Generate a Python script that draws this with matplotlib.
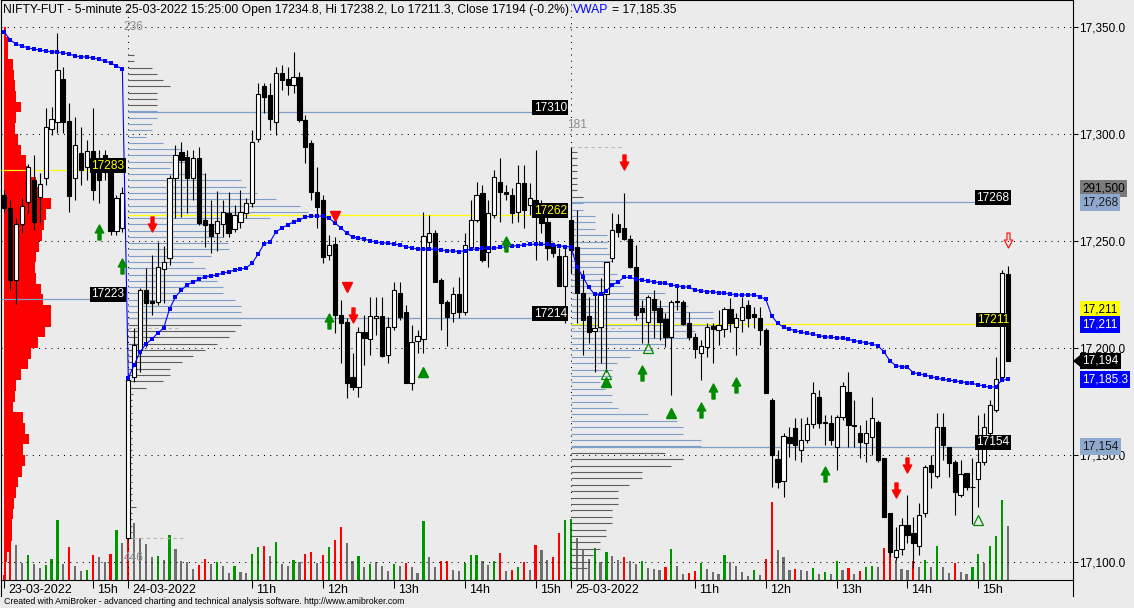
import numpy as np
import matplotlib
matplotlib.use("Agg")
import matplotlib.pyplot as plt
from matplotlib.path import Path
from matplotlib.patches import Polygon
from matplotlib.lines import Line2D
import matplotlib.transforms as mtransforms

plt.rcParams['font.family'] = ['Liberation Sans', 'DejaVu Sans']

# ---------------------------------------------------------------- data
symbol = "NIFTY-FUT"
interval = "5-minute"
last_stamp = "25-03-2022 15:25:00"

opens = [
    17271.5, 17265.4, 17231.8, 17257.9, 17268.2, 17278.5, 17270.5, 17279.4, 17302.3, 17305.5,
    17325.6, 17306.0, 17279.4, 17291.0, 17284.5, 17292.0, 17285.5, 17290.1, 17286.4, 17254.6,
    17256.1,
    17111.3, 17186.5, 17199.1, 17227.1, 17222.0, 17221.5, 17236.9, 17242.0, 17279.4, 17291.5,
    17289.2, 17279.4, 17288.7, 17259.8, 17257.9, 17253.7, 17257.9, 17263.0, 17255.6, 17258.9,
    17263.0, 17267.7, 17297.6, 17322.4, 17318.2, 17305.5, 17328.4, 17325.6, 17322.8, 17326.5,
    17306.5, 17295.7, 17272.9, 17269.1, 17243.4, 17248.6, 17215.5, 17212.2, 17186.5, 17181.8,
    17207.5, 17204.2, 17214.1, 17215.0, 17196.8, 17209.8, 17225.7, 17216.9, 17183.7, 17203.3,
    17204.2, 17249.5, 17253.7, 17231.8, 17221.5, 17216.4, 17225.3, 17216.9, 17247.2, 17259.8,
    17272.4, 17244.8, 17262.1, 17277.5, 17272.9, 17271.5, 17263.5, 17277.1, 17266.8, 17269.1,
    17263.0, 17258.9, 17248.1, 17243.0, 17229.0,
    17259.8, 17247.2, 17225.7, 17215.0, 17208.0, 17209.8, 17225.3, 17242.0, 17257.9, 17256.1,
    17250.9, 17237.8, 17218.7, 17212.2, 17222.9, 17218.7, 17213.6, 17205.2, 17222.0, 17221.5,
    17211.7, 17205.2, 17197.7, 17200.5, 17210.3, 17208.4, 17208.9, 17218.3, 17209.8, 17213.1,
    17220.1, 17215.9, 17214.1, 17208.4, 17175.8, 17148.2, 17138.0, 17158.5, 17162.7, 17152.4,
    17157.1, 17164.6, 17177.1, 17165.0, 17165.0, 17153.8, 17167.9, 17179.5, 17164.1, 17160.3,
    17155.7, 17158.5, 17165.5, 17148.7, 17123.0, 17102.5, 17106.2, 17117.4, 17113.7, 17107.6,
    17123.0, 17145.4, 17140.3, 17163.2, 17153.8, 17146.8, 17131.4, 17141.7, 17135.2, 17138.9,
    17146.8, 17160.3, 17171.1, 17186.5, 17234.8]

highs = [
    17273.8, 17269.1, 17260.7, 17270.1, 17285.9, 17290.1, 17281.7, 17312.1, 17312.5, 17347.1,
    17331.2, 17314.4, 17307.9, 17303.2, 17297.1, 17312.1, 17292.4, 17292.4, 17288.7, 17271.5,
    17275.2,
    17186.0, 17209.4, 17228.0, 17237.4, 17243.4, 17249.5, 17247.6, 17280.8, 17294.8, 17296.2,
    17292.4, 17292.4, 17293.8, 17281.7, 17269.1, 17273.3, 17269.1, 17272.9, 17266.8, 17273.8,
    17270.1, 17301.8, 17323.8, 17323.8, 17323.8, 17331.2, 17332.2, 17331.2, 17338.2, 17328.9,
    17308.8, 17297.1, 17284.5, 17271.5, 17252.8, 17251.8, 17222.5, 17214.1, 17197.7, 17209.8,
    17215.5, 17223.9, 17223.9, 17223.9, 17214.5, 17230.8, 17230.8, 17220.1, 17210.8, 17208.4,
    17263.5, 17262.1, 17255.1, 17232.7, 17222.5, 17228.5, 17233.2, 17253.7, 17269.1, 17277.5,
    17276.1, 17269.1, 17283.1, 17288.7, 17276.1, 17274.7, 17285.5, 17285.5, 17277.1, 17292.4,
    17269.1, 17264.4, 17249.5, 17246.7, 17247.2,
    17293.8, 17264.4, 17236.4, 17223.9, 17225.7, 17232.7, 17240.2, 17263.0, 17262.6, 17272.4,
    17252.8, 17248.1, 17222.5, 17224.8, 17227.1, 17222.5, 17216.4, 17222.5, 17229.0, 17222.5,
    17216.9, 17207.0, 17203.8, 17211.7, 17211.7, 17217.8, 17219.2, 17223.4, 17216.4, 17223.9,
    17222.5, 17219.2, 17219.2, 17209.4, 17176.7, 17152.4, 17160.3, 17163.2, 17167.4, 17167.4,
    17167.9, 17184.2, 17180.4, 17168.8, 17168.8, 17168.8, 17184.2, 17188.8, 17175.8, 17164.1,
    17166.4, 17177.1, 17166.4, 17148.7, 17123.0, 17116.5, 17120.7, 17131.4, 17121.1, 17127.7,
    17145.4, 17150.1, 17169.7, 17169.7, 17153.8, 17147.7, 17147.7, 17141.7, 17148.7, 17168.8,
    17169.7, 17175.8, 17195.8, 17236.4, 17238.2]

lows = [
    17263.5, 17227.1, 17220.6, 17253.7, 17263.0, 17255.1, 17258.4, 17276.1, 17299.5, 17300.4,
    17300.4, 17263.5, 17269.1, 17276.1, 17278.5, 17269.1, 17267.7, 17278.5, 17252.8, 17252.8,
    17254.2,
    17110.4, 17184.2, 17188.8, 17200.5, 17215.5, 17220.1, 17221.1, 17238.8, 17260.7, 17261.2,
    17263.0, 17269.1, 17257.5, 17247.2, 17244.4, 17245.3, 17251.8, 17251.8, 17254.2, 17256.1,
    17260.7, 17265.8, 17296.2, 17309.7, 17301.8, 17299.5, 17320.5, 17318.2, 17319.1, 17305.5,
    17286.4, 17269.1, 17256.1, 17239.7, 17241.1, 17207.0, 17193.0, 17176.7, 17180.4, 17177.1,
    17192.1, 17196.8, 17206.1, 17195.8, 17193.0, 17208.4, 17213.1, 17183.7, 17180.4, 17197.7,
    17197.7, 17246.7, 17230.8, 17208.4, 17200.9, 17212.2, 17214.1, 17215.5, 17245.8, 17258.9,
    17240.2, 17237.8, 17260.7, 17258.9, 17269.1, 17258.4, 17258.9, 17256.1, 17262.1, 17241.1,
    17253.7, 17241.1, 17242.5, 17229.0, 17211.7,
    17235.0, 17211.7, 17196.8, 17202.3, 17188.8, 17193.0, 17188.8, 17240.2, 17251.8, 17250.4,
    17237.4, 17213.1, 17202.3, 17202.3, 17204.7, 17203.8, 17200.5, 17178.1, 17217.8, 17210.8,
    17203.8, 17195.4, 17185.1, 17195.8, 17193.0, 17201.4, 17205.2, 17207.5, 17196.8, 17207.5,
    17209.8, 17209.4, 17201.4, 17179.0, 17135.2, 17134.7, 17130.5, 17149.2, 17147.7, 17146.8,
    17155.7, 17162.7, 17162.7, 17154.8, 17154.8, 17143.1, 17166.4, 17153.8, 17153.8, 17148.7,
    17146.8, 17150.1, 17146.8, 17121.1, 17102.5, 17101.1, 17103.4, 17109.0, 17097.3, 17103.4,
    17121.1, 17134.7, 17139.3, 17147.7, 17139.8, 17122.1, 17130.5, 17133.8, 17117.9, 17125.8,
    17145.4, 17159.0, 17170.2, 17185.1, 17211.3]

closes = [
    17265.4, 17231.8, 17257.9, 17266.3, 17284.5, 17258.9, 17276.6, 17303.2, 17307.0, 17329.8,
    17305.5, 17271.0, 17294.8, 17283.1, 17292.0, 17273.8, 17278.5, 17282.2, 17254.6, 17270.1,
    17272.4,
    17185.1, 17201.4, 17227.1, 17221.1, 17221.1, 17237.8, 17240.2, 17279.4, 17290.1, 17287.8,
    17279.4, 17288.7, 17258.4, 17257.5, 17252.3, 17259.3, 17263.5, 17253.7, 17262.1, 17263.5,
    17267.7, 17296.2, 17318.6, 17317.2, 17307.0, 17328.4, 17325.1, 17322.8, 17326.5, 17306.5,
    17293.8, 17272.9, 17265.8, 17242.5, 17248.1, 17215.5, 17211.7, 17183.7, 17181.8, 17207.5,
    17204.7, 17215.0, 17215.0, 17196.3, 17209.8, 17227.1, 17214.5, 17183.7, 17202.8, 17205.6,
    17252.3, 17253.7, 17230.8, 17221.1, 17214.5, 17225.3, 17216.9, 17248.1, 17259.8, 17271.5,
    17241.1, 17263.0, 17279.9, 17272.9, 17271.9, 17263.0, 17277.1, 17264.4, 17270.1, 17264.4,
    17258.4, 17246.7, 17244.4, 17229.0, 17243.0,
    17245.8, 17225.7, 17213.1, 17207.5, 17209.4, 17225.3, 17240.2, 17255.1, 17254.2, 17250.9,
    17237.8, 17215.5, 17216.9, 17223.9, 17217.8, 17212.2, 17205.2, 17221.5, 17221.5, 17211.3,
    17205.2, 17199.6, 17200.9, 17209.8, 17208.9, 17210.8, 17218.3, 17211.7, 17214.1, 17219.2,
    17214.1, 17214.5, 17208.4, 17179.0, 17150.1, 17137.5, 17159.0, 17155.7, 17154.8, 17157.1,
    17164.6, 17179.0, 17165.0, 17165.5, 17157.1, 17167.9, 17182.3, 17164.1, 17163.6, 17156.2,
    17160.3, 17167.4, 17147.7, 17121.1, 17104.8, 17105.8, 17117.4, 17112.7, 17109.0, 17122.1,
    17144.5, 17142.1, 17163.2, 17154.8, 17146.3, 17132.8, 17141.2, 17135.2, 17135.0, 17146.8,
    17163.2, 17173.4, 17185.6, 17235.0, 17194.0]

# volume in thousands; signal: u = up-volume (green), d = down-volume (red), n = neutral
volume_k = [
    27.0, 216.0, 189.0, 91.8, 135.0, 86.4, 64.8, 81.0, 113.4, 324.0,
    86.4, 178.2, 75.6, 48.6, 54.0, 135.0, 124.2, 97.2, 140.4, 270.0,
    199.8,
    226.8, 307.8, 226.8, 194.4, 124.2, 129.6, 108.0, 243.0, 167.4, 102.6,
    97.2, 59.4, 81.0, 113.4, 86.4, 97.2, 75.6, 37.8, 75.6, 43.2,
    37.8, 140.4, 178.2, 183.6, 129.6, 205.2, 86.4, 75.6, 108.0, 97.2,
    140.4, 151.2, 91.8, 135.0, 178.2, 216.0, 286.2, 199.8, 102.6, 129.6,
    70.2, 86.4, 97.2, 75.6, 48.6, 86.4, 75.6, 91.8, 70.2, 37.8,
    318.6, 124.2, 70.2, 102.6, 102.6, 54.0, 48.6, 91.8, 135.0, 135.0,
    102.6, 81.0, 102.6, 145.8, 48.6, 54.0, 70.2, 97.2, 54.0, 189.0,
    162.0, 108.0, 124.2, 253.8, 324.0,
    329.4, 226.8, 162.0, 113.4, 172.8, 97.2, 151.2, 129.6, 108.0, 124.2,
    102.6, 86.4, 102.6, 64.8, 59.4, 54.0, 70.2, 167.4, 75.6, 32.4,
    37.8, 48.6, 91.8, 59.4, 43.2, 32.4, 135.0, 97.2, 75.6, 43.2,
    21.6, 54.0, 27.0, 113.4, 421.2, 162.0, 124.2, 54.0, 59.4, 54.0,
    48.6, 64.8, 32.4, 43.2, 32.4, 102.6, 54.0, 64.8, 32.4, 48.6,
    70.2, 75.6, 70.2, 172.8, 145.8, 108.0, 59.4, 54.0, 102.6, 70.2,
    108.0, 70.2, 183.6, 70.2, 37.8, 91.8, 43.2, 32.4, 70.2, 140.4,
    91.8, 183.6, 237.6, 432.0, 291.5]

volume_signal = ("ddnnunnuuu" "ndnnudnndu" "n"
                 "dnnnnununn" "nnddnunnun" "nuudnunnun" "ddndudd" "nnu"
                 "nunnnundnn" "unnddnnuuu" "nnudndudnd" "nnddu"
                 "unnnununnd" "nnunnndunn" "ddunnnunnn" "nunddnnndn"
                 "nununundnd" "uunddnnndn" "ununndnnuu" "nuuun")

vwap = [
    17347.5, 17343.8, 17341.9, 17341.0, 17340.1, 17339.6, 17339.1, 17338.7, 17338.2, 17338.2,
    17337.7, 17337.3, 17336.3, 17335.9, 17335.9, 17335.4, 17334.9, 17334.0, 17333.1, 17331.7,
    17330.3,
    17186.0, 17192.1, 17198.2, 17201.9, 17204.2, 17207.0, 17209.4, 17218.3, 17223.9, 17227.1,
    17229.5, 17230.8, 17232.2, 17233.2, 17233.6, 17234.1, 17235.0, 17235.5, 17236.4, 17236.9,
    17237.4, 17239.7, 17243.9, 17248.6, 17249.5, 17254.2, 17256.1, 17257.5, 17258.9, 17259.8,
    17261.2, 17261.6, 17261.6, 17261.6, 17260.7, 17258.4, 17256.1, 17253.7, 17251.8, 17251.4,
    17250.9, 17250.0, 17249.5, 17249.2, 17248.9, 17248.6, 17248.1, 17247.3, 17246.8, 17246.2,
    17246.2, 17246.2, 17246.1, 17245.8, 17245.4, 17245.3, 17245.0, 17245.4, 17246.1, 17246.2,
    17246.6, 17246.6, 17246.6, 17247.0, 17247.3, 17247.6, 17247.8, 17248.1, 17248.4, 17248.4,
    17248.4, 17248.4, 17248.1, 17247.8, 17247.3,
    17247.3, 17238.0, 17233.3, 17228.4, 17225.1, 17225.1, 17226.8, 17229.4, 17231.0, 17233.0,
    17233.0, 17232.1, 17231.8, 17231.3, 17231.0, 17230.5, 17230.2, 17229.4, 17229.0, 17228.6,
    17228.4, 17227.1, 17226.8, 17226.3, 17226.3, 17225.8, 17225.6, 17225.2, 17224.8, 17224.8,
    17224.8, 17224.8, 17224.0, 17222.8, 17215.0, 17211.6, 17209.7, 17208.9, 17208.1, 17207.4,
    17206.9, 17206.4, 17205.8, 17205.3, 17205.0, 17204.8, 17204.6, 17204.1, 17203.4, 17203.0,
    17202.5, 17201.9, 17201.0, 17198.3, 17194.1, 17191.8, 17191.3, 17191.0, 17188.5, 17187.9,
    17187.4, 17186.6, 17185.9, 17185.4, 17185.1, 17184.6, 17184.3, 17183.8, 17183.5, 17182.8,
    17182.3, 17181.7, 17182.0, 17185.1, 17185.35]

# day boundaries (bar index of first bar of each session) and x-axis labels
day_starts = [0, 21, 96]
xtick_idx = [0, 15, 21, 42, 54, 66, 78, 90, 96, 117, 129, 141, 153, 165]
xtick_lbl = ['23-03-2022', '15h', '24-03-2022', '11h', '12h', '13h', '14h', '15h',
             '25-03-2022', '11h', '12h', '13h', '14h', '15h']
ytick_vals = [17100, 17150, 17200, 17250, 17300, 17350]

# volume-at-price for the whole visible range (5-point bins, top to bottom)
vap_all_price = list(np.arange(17347.5, 17090.0, -5.0))
vap_all_vol = [2, 4, 4, 9, 10, 11, 12, 17, 12, 11, 14, 17, 22, 24, 32, 36, 47, 42, 40, 38,
               35, 32, 31, 32, 37, 39, 47, 47, 41, 34, 27, 24, 17, 12, 11, 9, 19, 21, 25, 19,
               21, 18, 14, 12, 10, 9, 8, 8, 6, 3, 2, 2]

# per-session volume profiles (24-03 and 25-03)
vp2_top, vp2_bot = 17336.8, 17111.3
vp2_vol = [6, 6, 24, 29, 35, 42, 29, 29, 29, 29, 29, 24, 24, 18, 35, 54, 59, 59, 42, 77,
           113, 118, 129, 148, 172, 180, 142, 105, 89, 95, 100, 101, 83, 65, 77, 89, 89, 95, 95, 107,
           113, 113, 113, 113, 107, 101, 89, 77, 65, 54, 42, 42, 35, 18, 5, 4, 4, 4, 4, 4,
           4, 4, 4, 4, 4, 4, 4, 4, 4, 4, 4, 4, 8, 4, 4, 4, 4, 4]
vp3_top, vp3_bot = 17291.5, 17097.3
vp3_vol = [6, 6, 6, 6, 6, 6, 6, 12, 12, 12, 24, 24, 24, 36, 36, 36, 41, 41, 36, 46,
           46, 52, 94, 88, 117, 142, 142, 160, 124, 119, 94, 82, 59, 46, 41, 41, 29, 34, 41, 41,
           47, 77, 106, 112, 112, 130, 130, 94, 112, 100, 71, 71, 58, 47, 47, 47, 41, 41, 41, 35,
           35, 29, 29, 22, 16, 16]

# point of control / value area levels per session
poc_levels = {0: 17283, 21: 17262, 96: 17211}
va_levels = {0: [17223], 21: [17310, 17214], 96: [17268, 17154]}
session_last = {0: 20, 21: 95, 96: 170}

# profile notes and reference dashes
profile_notes = [(21.8, 17350.0, '236'), (97.0, 17304.1, '181'), (22.0, 17102.2, '446')]
dash_levels = [(21, 17209.4), (21.8, 17111.3), (96, 17293.8), (96, 17209.4)]

# signals
buy_arrow = ([16, 20, 55, 85, 108, 118, 120, 124, 139],
             [17254.2, 17238.3, 17212.6, 17248.6, 17188.4, 17171.1, 17180.0, 17182.8, 17141.2])
buy_tri = ([71, 102, 113], [17188.8, 17184.2, 17169.7])
buy_hollow = ([102, 109, 165], [17187.9, 17200.0, 17119.8])
sell_arrow = ([25, 59, 105, 151, 153], [17257.9, 17215.5, 17286.8, 17133.8, 17145.4])
sell_tri = ([56, 58], [17261.6, 17228.5])
sell_hollow = ([170], [17250.4])

# ---------------------------------------------------------------- figure
W, H, DPI = 1134, 608, 100
BG = '#EBEBEB'
STEEL = '#7F9FC9'
GREEN = '#009600'
fig = plt.figure(figsize=(W / DPI, H / DPI), dpi=DPI)
fig.patch.set_facecolor(BG)

rect = [1 / W, 28 / H, 1072 / W, 580 / H]
axv = fig.add_axes(rect)
ax = fig.add_axes(rect, sharex=axv)
axv.patch.set_visible(False)
ax.patch.set_visible(False)
axv.set_zorder(0)
ax.set_zorder(1)

XLIM = (-0.56, 181.04)
YLIM = (17091.74, 17362.46)
ax.set_xlim(*XLIM)
ax.set_ylim(*YLIM)
axv.set_ylim(0, 3131)
axv.axis('off')
ppb = 1072.0 / (XLIM[1] - XLIM[0])   # pixels per bar

o = np.array(opens); h = np.array(highs); l = np.array(lows); c = np.array(closes)
n = len(c)
x = np.arange(n)

# volume
vcol = {'u': GREEN, 'd': '#FF0000', 'n': '#6E6E6E'}
axv.bar(x, volume_k, width=2.2 / ppb, color=[vcol[s] for s in volume_signal], linewidth=0)

# grid
DOT = (0, (1, 5))
for yv in ytick_vals:
    ax.axhline(yv, color='black', lw=0.75, ls=DOT, zorder=1)
for d in day_starts[1:]:
    ax.axvline(d, color='black', lw=0.75, ls=DOT, zorder=1)

# whole-range volume profile (red)
ax.barh(vap_all_price, np.array(vap_all_vol) / ppb, height=5.0, left=x[0],
        color='#FF0000', linewidth=0, zorder=2)

# session profiles
def session_profile(start, top, bot, vols, vah, val):
    lv = np.linspace(top, bot, len(vols))
    cols = [STEEL if (val - 1.5) <= p <= (vah + 1.5) else '#5E5E5E' for p in lv]
    ax.hlines(lv, start, start + np.array(vols) / ppb, colors=cols, lw=0.8, zorder=2.5)

session_profile(21, vp2_top, vp2_bot, vp2_vol, max(va_levels[21]), min(va_levels[21]))
session_profile(96, vp3_top, vp3_bot, vp3_vol, max(va_levels[96]), min(va_levels[96]))

# dashed reference lines
for s, p in dash_levels:
    ax.hlines(p, s, s + 52 / ppb, colors='#B8B8B8', lw=0.8, linestyles=(0, (3, 3)), zorder=2.6)

# level lines + labels
def level_label(xr, price, txtcolor):
    ax.annotate(f"{price:d}", xy=(xr, price), xytext=(0, 4.5), textcoords='offset pixels',
                ha='right', va='center', fontsize=8.6, color=txtcolor, zorder=9,
                bbox=dict(boxstyle='square,pad=0.12', fc='black', ec='none'))

for s in day_starts:
    xs = XLIM[0] if s == 0 else s
    xe = session_last[s] + 0.3
    ax.hlines(poc_levels[s], xs, xe, colors='#FFFF00', lw=0.9, zorder=3)
    level_label(xe, poc_levels[s], '#FFFF00')
    for v in va_levels[s]:
        ax.hlines(v, xs, xe, colors=STEEL, lw=0.9, zorder=3)
        level_label(xe, v, 'white')

# candles
ax.vlines(x, np.minimum(l, np.minimum(o, c)), np.maximum(h, np.maximum(o, c)),
          color='black', lw=0.8, zorder=4)
up = c >= o
ax.bar(x, np.maximum(np.abs(c - o), 0.25), bottom=np.minimum(o, c), width=0.72,
       color=np.where(up, 'white', 'black'), edgecolor='black', linewidth=0.8, zorder=5)

# VWAP
ax.plot(x, vwap, color='#0000FF', lw=0.8, marker='s', ms=2.2, mew=0, mfc='#0000FF', zorder=6)

# signals
def arrow_path(upward=True):
    v = [(0, 0.5), (0.28, -0.03), (0.1, -0.03), (0.1, -0.5), (-0.1, -0.5),
         (-0.1, -0.03), (-0.28, -0.03), (0, 0.5)]
    if not upward:
        v = [(a, -b) for a, b in v]
    return Path(v, [Path.MOVETO] + [Path.LINETO] * 6 + [Path.CLOSEPOLY])

AR = 10.8
ax.plot(*buy_arrow, ls='none', marker=arrow_path(True), ms=AR, color='#008A00', zorder=7)
ax.plot(*sell_arrow, ls='none', marker=arrow_path(False), ms=AR, color='#FF0000', zorder=7)
ax.plot(*sell_hollow, ls='none', marker=arrow_path(False), ms=AR, mfc='none', mec='#FF0000',
        mew=0.8, zorder=7)
ax.plot(*buy_tri, ls='none', marker='^', ms=7.2, color='#008A00', zorder=7)
ax.plot(*sell_tri, ls='none', marker='v', ms=7.2, color='#FF0000', zorder=7)
ax.plot(*buy_hollow, ls='none', marker='^', ms=7.2, mfc='none', mec='#008A00', mew=0.9, zorder=7)

for xi, yi, t in profile_notes:
    ax.text(xi, yi, t, ha='center', va='center', fontsize=8.6, color='#8C8C8C', zorder=8)

# axes styling
for sp in ax.spines.values():
    sp.set_color('black'); sp.set_linewidth(0.8)
ax.yaxis.tick_right()
ax.set_yticks(ytick_vals)
ax.set_yticklabels([f"{v:,.1f}" for v in ytick_vals])
ax.tick_params(axis='y', length=3.6, width=0.75, pad=0.8, labelsize=8.5, colors='black')
ax.set_xticks(xtick_idx)
ax.tick_params(axis='x', length=5.8, width=0.75, direction='out', labelbottom=False)
for xi, t in zip(xtick_idx, xtick_lbl):
    ax.annotate(t, xy=(xi, 0), xycoords=('data', 'axes fraction'), xytext=(4, -13),
                textcoords='offset pixels', ha='left', va='baseline', fontsize=9, annotation_clip=False)

# right-hand value labels
def axis_label(price, text, fc, tc, dy=0):
    ax.annotate(text, xy=(1.0, price), xycoords=('axes fraction', 'data'), xytext=(9, dy),
                textcoords='offset pixels', ha='left', va='center', fontsize=8.5, color=tc,
                bbox=dict(boxstyle='square,pad=0.2', fc=fc, ec='none'),
                annotation_clip=False, zorder=10)

axis_label(17274.5, f"{volume_k[-1] * 1000:,.0f}", '#7A7A7A', 'black')
axis_label(max(va_levels[96]), f"{max(va_levels[96]):,}", '#8EA9CD', '#1A1A1A')
axis_label(poc_levels[96], f"{poc_levels[96]:,}", '#FFFF00', 'black', dy=15)
axis_label(poc_levels[96], f"{poc_levels[96]:,}", '#0000FF', 'white')
axis_label(c[-1], f"{c[-1]:,.0f}", 'black', 'white')
axis_label(vwap[-1], f"{vwap[-1]:,.1f}", '#0000FF', 'white')
axis_label(min(va_levels[96]), f"{min(va_levels[96]):,}", '#8EA9CD', '#1A1A1A')

fig.canvas.draw()
yp = ax.transData.transform((0, c[-1]))[1]
xr = ax.transAxes.transform((1, 0))[0]
fig.add_artist(Polygon([[xr, yp], [xr + 9, yp + 7.5], [xr + 9, yp - 7.5]], closed=True,
                       transform=mtransforms.IdentityTransform(), fc='black', ec='none', zorder=11))

# spine extensions below the plot
for xf in (1 / W, 1073 / W):
    fig.add_artist(Line2D([xf, xf], [(608 - 596) / H, 28 / H], color='black', lw=0.8))

# title
chg = (c[-1] - c[-2]) / c[-2] * 100
parts = [(f"{symbol} - {interval} {last_stamp} Open {o[-1]:.1f}, Hi {h[-1]:.1f}, "
          f"Lo {l[-1]:.1f}, Close {c[-1]:g} ({chg:.1f}%)", 'black'),
         ("VWAP", '#0000FF'), (f"= {vwap[-1]:,.2f}", 'black')]
renderer = fig.canvas.get_renderer()
xpos = 3.0
for txt, col in parts:
    t = fig.text(xpos / W, 1 - 13 / H, txt, color=col, fontsize=8.7, ha='left', va='baseline')
    xpos = t.get_window_extent(renderer).x1 + 4

fig.text(4 / W, 1 - 604.5 / H,
         "Created with AmiBroker - advanced charting and technical analysis software. http://www.amibroker.com",
         fontsize=6.3, ha='left', va='baseline', color='black')

fig.savefig('out.png', dpi=DPI, facecolor=BG)
